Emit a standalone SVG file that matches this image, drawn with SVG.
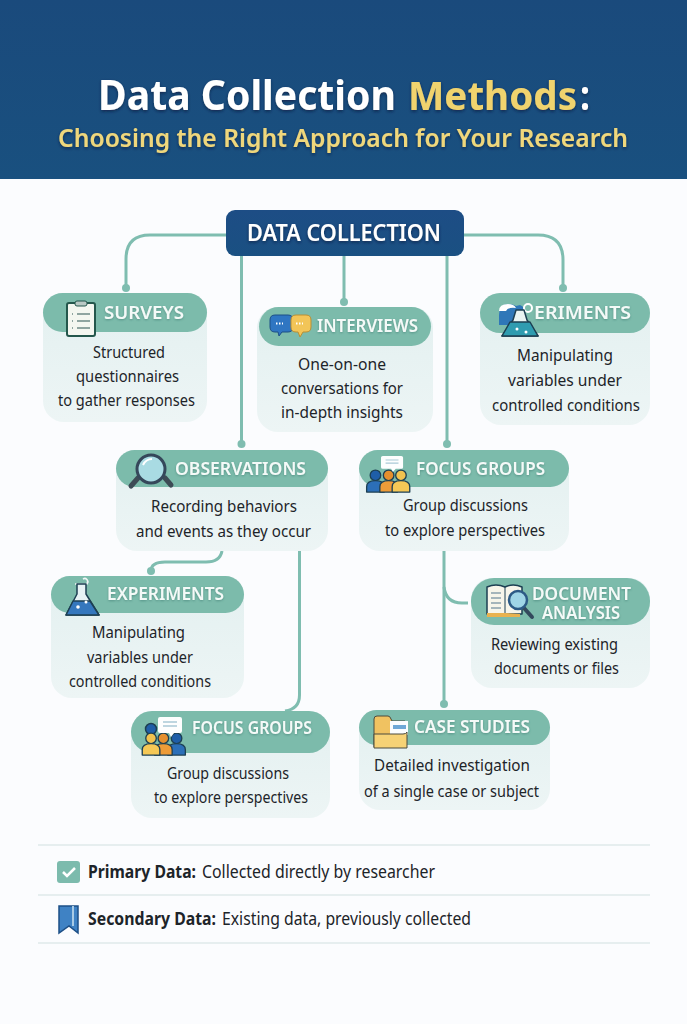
<svg xmlns="http://www.w3.org/2000/svg" width="687" height="1024" viewBox="0 0 687 1024">
<style>
text{font-family:"Noto Sans","Open Sans","Liberation Sans",sans-serif}
.card{fill:url(#cardG)}
.head{fill:#7cbbab}
.ht{fill:#f4faf8;font-weight:600;font-size:17.5px;text-anchor:middle;filter:url(#ts)}
.bd{fill:#1d2429;font-size:16.5px;text-anchor:middle}
.c{fill:none;stroke:#7fbdb0;stroke-width:3}
.d{fill:#7fbdb0}
.lg{fill:#1d2429;font-size:17.5px}
.b{font-weight:700}
.rule{stroke:#dfe9ea;stroke-width:1.5}
.ol{stroke:#1d3f52;stroke-width:1.5;stroke-linejoin:round}
.tt{font-size:41px;font-weight:700;fill:#fff;filter:url(#ts2)}
</style>
<defs>
<linearGradient id="hdrG" x1="0" y1="0" x2="0" y2="1"><stop offset="0" stop-color="#1a4a7c"/><stop offset="1" stop-color="#19507f"/></linearGradient>
<linearGradient id="rootG" x1="0" y1="0" x2="0" y2="1"><stop offset="0" stop-color="#1d4d85"/><stop offset="1" stop-color="#1a5082"/></linearGradient>
<linearGradient id="cardG" x1="0" y1="0" x2="0" y2="1"><stop offset="0" stop-color="#e3f0f0"/><stop offset="1" stop-color="#edf5f5"/></linearGradient>
<filter id="ts" x="-10%" y="-30%" width="120%" height="160%"><feDropShadow dx="0" dy="1" stdDeviation="1" flood-color="#2d6a62" flood-opacity=".5"/></filter>
<filter id="ts2" x="-10%" y="-30%" width="120%" height="160%"><feDropShadow dx="0" dy="1.5" stdDeviation="1.5" flood-color="#071f3c" flood-opacity=".7"/></filter>
<g id="people">
<circle cx="13" cy="14" r="6" fill="#1f5ea8" class="ol"/><path d="M3 33v-6q0-7 10-7t10 7v6z" fill="#2c6fb8" class="ol"/>
<circle cx="28" cy="14" r="6" fill="#e58f2e" class="ol"/><path d="M18 33v-6q0-7 10-7t10 7v6z" fill="#ee9c38" class="ol"/>
<circle cx="42" cy="14" r="6" fill="#f2c24f" class="ol"/><path d="M32 33v-6q0-7 10-7t10 7v6z" fill="#f5c856" class="ol"/>
</g>
<g id="bubble"><path d="M2 0h20q2 0 2 2v12q0 2-2 2h-6l-3 4-2-4H2q-2 0-2-2V2q0-2 2-2z" fill="#fdfefe"/><path d="M5 5h14M5 9h14" stroke="#a9c9d6" stroke-width="1.5"/></g>
</defs>
<rect width="687" height="1024" fill="#fbfcfe"/>
<g id="title-band">
<rect width="687" height="179" fill="url(#hdrG)"/>
<text class="tt" x="98" y="110" textLength="298" lengthAdjust="spacingAndGlyphs">Data Collection</text>
<text class="tt" style="fill:#f0d36e;font-size:40px" x="408" y="110" textLength="169" lengthAdjust="spacingAndGlyphs">Methods</text>
<text class="tt" x="580" y="110" textLength="10" lengthAdjust="spacingAndGlyphs">:</text>
<text x="58" y="147" textLength="570" lengthAdjust="spacingAndGlyphs" font-size="26" font-weight="600" fill="#efd77c" filter="url(#ts2)">Choosing the Right Approach for Your Research</text>
</g>
<g id="connectors">
<path class="c" d="M226 235H150Q126 235 126 259V288"/><circle class="d" cx="126" cy="288" r="4"/>
<path class="c" d="M344 256V302"/><circle class="d" cx="344" cy="302" r="4"/>
<path class="c" d="M241.500 256V444"/><circle class="d" cx="241.500" cy="444" r="4"/>
<path class="c" d="M447 256V444"/><circle class="d" cx="447" cy="444" r="4"/>
<path class="c" d="M464 235H538Q563 235 563 260V288"/><circle class="d" cx="563" cy="288" r="4"/>
<path class="c" d="M222 551Q220 562 206 562H165Q151 562 151 571"/><circle class="d" cx="151" cy="571" r="4"/>
<path class="c" d="M299.500 551V695Q299.500 709 285 711"/>
<path class="c" d="M444 551V704"/><circle class="d" cx="444" cy="704" r="4"/>
<path class="c" d="M444 587Q446 603 462 603H468"/>
</g>
<g id="root"><rect x="226" y="210" width="238" height="46" rx="9" fill="url(#rootG)"/><text x="247" y="241" textLength="194" lengthAdjust="spacingAndGlyphs" font-size="22.500" font-weight="600" fill="#fff" filter="url(#ts2)">DATA COLLECTION</text></g>

<g id="surveys">
<rect class="card" x="43" y="293" width="164" height="129" rx="21"/><rect class="head" x="43" y="293" width="164" height="39" rx="19.500"/>
<rect x="67" y="303" width="28" height="33" rx="2" fill="#f4f7f0" stroke="#24574c" stroke-width="2"/><rect x="75" y="301" width="12" height="5" rx="2" fill="#b9c9c4" stroke="#24574c"/><path d="M73 314h-1M77 314h13M73 321h-1M77 321h13M73 328h-1M77 328h13" stroke="#6d8a85" stroke-width="1.500"/>
<text class="ht" x="144" y="319" textLength="80" lengthAdjust="spacingAndGlyphs">SURVEYS</text>
<text class="bd" x="129" y="358" textLength="72" lengthAdjust="spacingAndGlyphs">Structured</text><text class="bd" x="127.500" y="382" textLength="103" lengthAdjust="spacingAndGlyphs">questionnaires</text><text class="bd" x="126.500" y="406" textLength="137" lengthAdjust="spacingAndGlyphs">to gather responses</text>
</g>
<g id="interviews">
<rect class="card" x="257" y="307" width="176" height="125" rx="21"/><rect class="head" x="259" y="307" width="172" height="39" rx="19.500"/>
<path d="M275 315h13q5 0 5 5v7q0 5-5 5h-6l-3 4-1-4h-3q-5 0-5-5v-7q0-5 5-5z" fill="#2f76c2" stroke="#1d4f86"/>
<path d="M296 315h10q5 0 5 5v7q0 5-5 5h-3l-3 5-2-5h-2q-5 0-5-5v-7q0-5 5-5z" fill="#f2c558" stroke="#b98f35"/>
<path d="M276 323.500h7M296 323.500h7" stroke="#fff" stroke-width="2" stroke-dasharray="1.500 1.500"/>
<text class="ht" x="367.500" y="332" textLength="101" lengthAdjust="spacingAndGlyphs">INTERVIEWS</text>
<text class="bd" x="342" y="370" textLength="88" lengthAdjust="spacingAndGlyphs">One-on-one</text><text class="bd" x="342" y="394" textLength="122" lengthAdjust="spacingAndGlyphs">conversations for</text><text class="bd" x="342" y="418" textLength="122" lengthAdjust="spacingAndGlyphs">in-depth insights</text>
</g>
<g id="experiments-top">
<rect class="card" x="480" y="293" width="170" height="132" rx="21"/><rect class="head" x="480" y="293" width="170" height="40" rx="20"/>
<text class="ht" x="582.500" y="319" textLength="97" lengthAdjust="spacingAndGlyphs">ERIMENTS</text>
<path d="M499 315q0-11 9-11 5 0 8 2l4-1q5 2 4 6l-3 14h-22z" fill="#2f77b8"/><path d="M499 311q0-7 9-7 6 0 8 4-8-1-10 3z" fill="#fff"/>
<circle cx="528" cy="308" r="4" fill="none" stroke="#fff" stroke-width="2"/>
<path d="M516 310h8l3 10 11 16h-36l11-16z" fill="#e9f4f2" class="ol"/><path d="M510 322h20l8 14h-36z" fill="#2f9cb0" class="ol"/><circle cx="517" cy="329" r="1.500" fill="#fff"/><circle cx="526" cy="332" r="1.500" fill="#fff"/>
<text class="bd" x="565" y="361" textLength="96" lengthAdjust="spacingAndGlyphs">Manipulating</text><text class="bd" x="565" y="386" textLength="114" lengthAdjust="spacingAndGlyphs">variables under</text><text class="bd" x="566" y="411" textLength="148" lengthAdjust="spacingAndGlyphs">controlled conditions</text>
</g>
<g id="observations">
<rect class="card" x="116" y="450" width="212" height="101" rx="21"/><rect class="head" x="116" y="450" width="212" height="37" rx="18.500"/>
<path d="M138 478l-7 8M165 478l6 7" stroke="#3d4b55" stroke-width="5" stroke-linecap="round"/>
<circle cx="151" cy="469" r="14" fill="#a9dbe3" stroke="#35475a" stroke-width="3"/><path d="M143 465q3-6 9-6" stroke="#fff" stroke-width="2" fill="none"/>
<text class="ht" x="240.500" y="475" textLength="131" lengthAdjust="spacingAndGlyphs">OBSERVATIONS</text>
<text class="bd" x="224" y="512" textLength="146" lengthAdjust="spacingAndGlyphs">Recording behaviors</text><text class="bd" x="223.500" y="537" textLength="175" lengthAdjust="spacingAndGlyphs">and events as they occur</text>
</g>
<g id="focus-groups-right">
<rect class="card" x="359" y="450" width="210" height="101" rx="21"/><rect class="head" x="359" y="450" width="210" height="37" rx="18.500"/>
<use href="#people" transform="translate(364 463) scale(.88)"/><use href="#bubble" transform="translate(381 456) scale(.92 .8)"/>
<text class="ht" x="480.500" y="475" textLength="129" lengthAdjust="spacingAndGlyphs">FOCUS GROUPS</text>
<text class="bd" x="465.500" y="511" textLength="125" lengthAdjust="spacingAndGlyphs">Group discussions</text><text class="bd" x="465" y="536" textLength="160" lengthAdjust="spacingAndGlyphs">to explore perspectives</text>
</g>
<g id="experiments-left">
<rect class="card" x="51" y="576" width="193" height="122" rx="21"/><rect class="head" x="51" y="576" width="193" height="37" rx="18.500"/>
<path d="M75 584h12l1-2-1-1M83 579a3 3 0 1 1 0 5" fill="none" stroke="#f0f6f6" stroke-width="1.500"/>
<path d="M77 584h9v10l13 21H66l11-21z" fill="#e6f2f4" class="ol"/><path d="M73 601h17l9 14H66z" fill="#3577bd" class="ol"/><circle cx="78" cy="607" r="1.800" fill="#fff"/><circle cx="86" cy="602" r="1.500" fill="#fff"/>
<text class="ht" x="165.500" y="600" textLength="117" lengthAdjust="spacingAndGlyphs">EXPERIMENTS</text>
<text class="bd" x="138.500" y="638" textLength="93" lengthAdjust="spacingAndGlyphs">Manipulating</text><text class="bd" x="140" y="663" textLength="106" lengthAdjust="spacingAndGlyphs">variables under</text><text class="bd" x="140" y="687" textLength="142" lengthAdjust="spacingAndGlyphs">controlled conditions</text>
</g>
<g id="focus-groups-left">
<rect class="card" x="131" y="711" width="199" height="107" rx="21"/><rect class="head" x="131" y="711" width="199" height="42" rx="21"/>
<circle cx="151" cy="729" r="5.500" fill="#1f5ea8" class="ol"/>
<use href="#people" transform="matrix(-.88 0 0 .88 188 726)"/><use href="#bubble" transform="translate(158 717)"/>
<text class="ht" x="252" y="734" textLength="120" lengthAdjust="spacingAndGlyphs">FOCUS GROUPS</text>
<text class="bd" x="228" y="779" textLength="122" lengthAdjust="spacingAndGlyphs">Group discussions</text><text class="bd" x="231" y="803" textLength="154" lengthAdjust="spacingAndGlyphs">to explore perspectives</text>
</g>
<g id="document-analysis">
<rect class="card" x="471" y="578" width="179" height="110" rx="21"/><rect class="head" x="471" y="578" width="179" height="47" rx="23"/>
<path d="M487 587q9-4 18 0 8-4 17 0v27h-35z" fill="#f7f5ea" class="ol"/><path d="M505 587v27" stroke="#1d3f52"/><path d="M491 593h10M491 598h10M491 603h10M491 608h10" stroke="#8aa0ac" stroke-width="1.300"/><path d="M487 613h18l15 1v3h-33z" fill="#e9b24e"/>
<path d="M524 608l8 9" stroke="#33495c" stroke-width="4" stroke-linecap="round"/><circle cx="518" cy="600" r="9" fill="#9fd5e6" stroke="#2c5a85" stroke-width="2.500"/>
<text class="ht" x="581.500" y="600" textLength="99" lengthAdjust="spacingAndGlyphs">DOCUMENT</text><text class="ht" x="581" y="619" textLength="78" lengthAdjust="spacingAndGlyphs">ANALYSIS</text>
<text class="bd" x="554.500" y="650" textLength="127" lengthAdjust="spacingAndGlyphs">Reviewing existing</text><text class="bd" x="556.500" y="674" textLength="125" lengthAdjust="spacingAndGlyphs">documents or files</text>
</g>
<g id="case-studies">
<rect class="card" x="359" y="710" width="191" height="100" rx="21"/><rect class="head" x="359" y="710" width="191" height="35" rx="17.500"/>
<path d="M374 747v-28q0-3 3-3h11q2 0 3 3l1 2h13v26z" fill="#f0c261" stroke="#4b4a3e"/>
<rect x="390" y="721" width="18" height="14" fill="#fbfdfe"/><rect x="393" y="725" width="13" height="4" fill="#6fa8d6"/>
<path d="M374 734h29q3 0 4-2v16h-33z" fill="#f6d276" stroke="#4b4a3e"/>
<text class="ht" x="472" y="733" textLength="116" lengthAdjust="spacingAndGlyphs">CASE STUDIES</text>
<text class="bd" x="452" y="771" textLength="156" lengthAdjust="spacingAndGlyphs">Detailed investigation</text><text class="bd" x="451.500" y="797" textLength="175" lengthAdjust="spacingAndGlyphs">of a single case or subject</text>
</g>
<g id="legend">
<path class="rule" d="M38 845H650M38 895H650M38 943H650"/>
<g id="primary"><rect x="57" y="861" width="23" height="22" rx="3" fill="#7cbbad"/><path d="M63 872l4 4 8-8" fill="none" stroke="#fff" stroke-width="2.500"/>
<text class="lg b" x="88" y="878" textLength="108" lengthAdjust="spacingAndGlyphs">Primary Data:</text><text class="lg" x="202" y="878" textLength="233" lengthAdjust="spacingAndGlyphs">Collected directly by researcher</text></g>
<g id="secondary"><path d="M59 906h19v27l-9-7-10 7z" fill="#3f82c4" stroke="#1d4f86" stroke-width="1.500"/><path d="M73 906v20" stroke="#a8cbe6" stroke-width="2"/>
<text class="lg b" x="88" y="925" textLength="128" lengthAdjust="spacingAndGlyphs">Secondary Data:</text><text class="lg" x="222" y="925" textLength="249" lengthAdjust="spacingAndGlyphs">Existing data, previously collected</text></g>
</g>
</svg>
